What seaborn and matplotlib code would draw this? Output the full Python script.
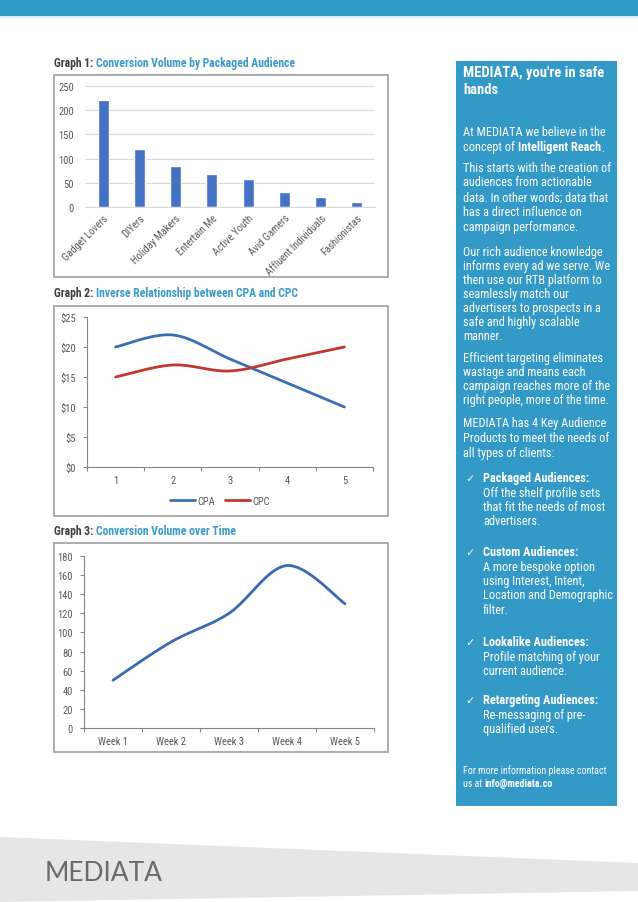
import numpy as np
import pandas as pd
import matplotlib
matplotlib.use("Agg")
import matplotlib.pyplot as plt
import seaborn as sns
from matplotlib import font_manager
from matplotlib.patches import Rectangle, Polygon
from matplotlib.ticker import FixedLocator

# ---------------- data ----------------
audiences = ["Gadget Lovers", "DIYers", "Holiday Makers", "Entertain Me",
             "Active Youth", "Avid Gamers", "Affluent Individuals", "Fashionistas"]
conversions = [222, 120, 84, 69, 57, 31, 20, 11]
g1_ticks = [0, 50, 100, 150, 200, 250]

periods = [1, 2, 3, 4, 5]
cpa = [20, 22, 18, 14, 10]
cpc = [15, 17, 16, 18, 20]
g2_ticks = [0, 5, 10, 15, 20, 25]

weeks = ["Week 1", "Week 2", "Week 3", "Week 4", "Week 5"]
weekly_volume = [50, 90, 120, 170, 130]
g3_ticks = [0, 20, 40, 60, 80, 100, 120, 140, 160, 180]

# ---------------- style ----------------
W, H = 638, 903
sns.set_theme(style="white")
names = {f.name for f in font_manager.fontManager.ttflist}
candidates = ["Liberation Sans Narrow", "Roboto Condensed", "Open Sans Condensed",
              "Noto Sans Condensed", "DejaVu Sans Condensed", "Roboto", "Lato"]
NARROW = next((c for c in candidates if c in names), "DejaVu Sans")
plt.rcParams["font.family"] = [NARROW, "DejaVu Sans"]

BLUE_PANEL = "#3399C6"
BLUE_TITLE = "#3A9BC8"
DARK = "#3F3F3F"
GRAY = "#595959"
AXC = "#868686"
BAR = "#4472C4"
CPA_C = "#3C6EB4"
CPC_C = "#C0392F"

fig = plt.figure(figsize=(W / 100, H / 100), dpi=100)
fig.patch.set_facecolor("white")

bg = fig.add_axes([0, 0, 1, 1], zorder=-5)
bg.set_xlim(0, W)
bg.set_ylim(H, 0)
bg.axis("off")

def px_axes(x0, y0, x1, y1):
    return fig.add_axes([x0 / W, 1 - y1 / H, (x1 - x0) / W, (y1 - y0) / H])

renderer = fig.canvas.get_renderer()

def text_w(s, size, weight):
    t = bg.text(0, 0, s, fontsize=size, fontweight=weight)
    w = t.get_window_extent(renderer).width
    t.remove()
    return w

def fit_size(s, weight, target, cap):
    return min(cap, 10.0 * target / text_w(s, 10.0, weight))

def seq_text(x, y, segs, size, color):
    for s, w, c in segs:
        c = c or color
        stripped = s.rstrip(" ")
        ntrail = len(s) - len(stripped)
        t = bg.text(x, y, stripped, fontsize=size, color=c, fontweight=w,
                    va="center", ha="left")
        bb = t.get_window_extent(renderer)
        x = bb.x1
        if ntrail:
            sp = text_w("x x", size, w) - text_w("xx", size, w)
            x += sp * ntrail
    return x

def smooth(xs, ys, n=40):
    P = np.column_stack([xs, ys]).astype(float)
    ext = np.vstack([P[0], P, P[-1]])
    out = []
    t = np.linspace(0, 1, n)[:, None]
    for i in range(len(P) - 1):
        p0, p1, p2, p3 = ext[i], ext[i + 1], ext[i + 2], ext[i + 3]
        c1 = p1 + (p2 - p0) / 6
        c2 = p2 - (p3 - p1) / 6
        seg = (1 - t) ** 3 * p1 + 3 * (1 - t) ** 2 * t * c1 + 3 * (1 - t) * t ** 2 * c2 + t ** 3 * p2
        out.append(seg if i == 0 else seg[1:])
    return np.vstack(out)

# ---------------- page decoration ----------------
bg.add_patch(Rectangle((0, 0), W, 17, color="#2F9AC5", lw=0))
bg.add_patch(Rectangle((0, 17), W, 2, color="#D6EEF7", lw=0))
bg.add_patch(Polygon([(0, 838), (W, 864), (W, 892), (0, 903)], closed=True,
                     color="#E6E6E6", lw=0))
bg.text(45, 874, "MEDIATA", fontsize=19, color="#6A6A6A", va="center", ha="left",
        family=["Lato", "DejaVu Sans"], fontweight="normal")

# graph boxes
for (x0, y0, x1, y1) in [(54, 76, 388, 278), (54, 307, 388, 517), (54, 544, 388, 753)]:
    bg.add_patch(Rectangle((x0, y0), x1 - x0, y1 - y0, fill=False,
                           ec="#A6A6A6", lw=1.3))

# graph titles
TS = fit_size("Graph 1: Conversion Volume by Packaged Audience", "bold", 241, 9.5)
for y, num, rest in [(63, "Graph 1:", "Conversion Volume by Packaged Audience"),
                     (294, "Graph 2:", "Inverse Relationship between CPA and CPC"),
                     (532, "Graph 3:", "Conversion Volume over Time")]:
    seq_text(54, y, [(num + " ", "bold", DARK), (rest, "bold", BLUE_TITLE)], TS, DARK)

TK = 7.6  # tick label size

# ---------------- Graph 1 ----------------
ax1 = px_axes(85, 87, 375, 208)
df1 = pd.DataFrame({"audience": audiences, "conversions": conversions})
sns.barplot(data=df1, x="audience", y="conversions", color=BAR, saturation=1,
            width=0.31, ax=ax1)
ax1.set_xlim(-0.5, len(audiences) - 0.5)
ax1.set_ylim(0, 250)
ax1.set_yticks(g1_ticks)
ax1.yaxis.grid(True, color="#D9D9D9", lw=0.8)
ax1.set_axisbelow(True)
for s in ["top", "right", "left"]:
    ax1.spines[s].set_visible(False)
ax1.spines["bottom"].set_color("#D9D9D9")
ax1.spines["bottom"].set_linewidth(0.8)
ax1.set_xlabel("")
ax1.set_ylabel("")
ax1.tick_params(axis="both", length=0, labelsize=TK, labelcolor=GRAY)
ax1.tick_params(axis="y", pad=8)
ax1.tick_params(axis="x", pad=4)
for lbl in ax1.get_xticklabels():
    lbl.set_rotation(45)
    lbl.set_ha("right")
    lbl.set_rotation_mode("anchor")

# ---------------- Graph 2 ----------------
ax2 = px_axes(87, 318, 373, 468)
s_cpa = smooth(periods, cpa)
s_cpc = smooth(periods, cpc)
sns.lineplot(x=s_cpa[:, 0], y=s_cpa[:, 1], sort=False, color=CPA_C, lw=2.0,
             label="CPA", ax=ax2)
sns.lineplot(x=s_cpc[:, 0], y=s_cpc[:, 1], sort=False, color=CPC_C, lw=2.0,
             label="CPC", ax=ax2)
ax2.set_xlim(0.5, 5.5)
ax2.set_ylim(0, 25)
ax2.set_xticks(periods)
ax2.set_xticklabels([str(p) for p in periods])
ax2.xaxis.set_minor_locator(FixedLocator(np.arange(0.5, 5.6, 1)))
ax2.set_yticks(g2_ticks)
ax2.set_yticklabels([f"${v}" for v in g2_ticks])
leg = ax2.legend(loc="center", bbox_to_anchor=(0.465, -0.227), ncol=2, frameon=False,
                 handlelength=2.4, columnspacing=0.9, handletextpad=0.25,
                 fontsize=TK)
for t in leg.get_texts():
    t.set_color(GRAY)

# ---------------- Graph 3 ----------------
ax3 = px_axes(84, 557, 374, 729)
x3 = list(range(1, len(weeks) + 1))
s_w = smooth(x3, weekly_volume)
sns.lineplot(x=s_w[:, 0], y=s_w[:, 1], sort=False, color="#3A69AE", lw=2.0, ax=ax3)
ax3.set_xlim(0.5, 5.5)
ax3.set_ylim(0, 180)
ax3.set_xticks(x3)
ax3.set_xticklabels(weeks)
ax3.xaxis.set_minor_locator(FixedLocator(np.arange(0.5, 5.6, 1)))
ax3.set_yticks(g3_ticks)

for ax in (ax2, ax3):
    for s in ["top", "right"]:
        ax.spines[s].set_visible(False)
    for s in ["left", "bottom"]:
        ax.spines[s].set_color(AXC)
        ax.spines[s].set_linewidth(0.8)
    ax.set_xlabel("")
    ax.set_ylabel("")
    ax.tick_params(axis="x", which="major", length=0, pad=6, labelsize=TK, labelcolor=GRAY)
    ax.tick_params(axis="x", which="minor", length=3, width=0.8, color=AXC, direction="out", bottom=True)
    ax.tick_params(axis="y", which="major", length=3, width=0.8, color=AXC, direction="out",
                   left=True, pad=5, labelsize=TK, labelcolor=GRAY)

# ---------------- right info panel ----------------
bg.add_patch(Rectangle((456, 62), 161, 745, color=BLUE_PANEL, lw=0))
WH = "white"
PX = 463
HS = fit_size("MEDIATA, you're in safe", "bold", 141, 10.5)
BS = fit_size("This starts with the creation of", "normal", 146, 9.0)
SS = fit_size("For more information please contact", "normal", 143, 7.5)
seq_text(PX, 73, [("MEDIATA, you're in safe", "bold", None)], HS, WH)
seq_text(PX, 90, [("hands", "bold", None)], HS, WH)

body = [
    (133, [("At MEDIATA we believe in the", "normal", None)]),
    (148, [("concept of ", "normal", None), ("Intelligent Reach", "bold", None), (".", "normal", None)]),
    (168, [("This starts with the creation of", "normal", None)]),
    (183, [("audiences from actionable", "normal", None)]),
    (198, [("data. In other words; data that", "normal", None)]),
    (213, [("has a direct influence on", "normal", None)]),
    (228, [("campaign performance.", "normal", None)]),
    (253, [("Our rich audience knowledge", "normal", None)]),
    (267, [("informs every ad we serve. We", "normal", None)]),
    (281, [("then use our RTB platform to", "normal", None)]),
    (295, [("seamlessly match our", "normal", None)]),
    (309, [("advertisers to prospects in a", "normal", None)]),
    (323, [("safe and highly scalable", "normal", None)]),
    (337, [("manner.", "normal", None)]),
    (359, [("Efficient targeting eliminates", "normal", None)]),
    (373, [("wastage and means each", "normal", None)]),
    (387, [("campaign reaches more of the", "normal", None)]),
    (401, [("right people, more of the time.", "normal", None)]),
    (424, [("MEDIATA has 4 Key Audience", "normal", None)]),
    (439, [("Products to meet the needs of", "normal", None)]),
    (454, [("all types of clients:", "normal", None)]),
]
for y, segs in body:
    seq_text(PX, y, segs, BS, WH)

bullets = [
    (479, "Packaged Audiences:", ["Off the shelf profile sets", "that fit the needs of most", "advertisers."]),
    (553, "Custom Audiences:", ["A more bespoke option", "using Interest, Intent,", "Location and Demographic", "filter."]),
    (643, "Lookalike Audiences:", ["Profile matching of your", "current audience."]),
    (701, "Retargeting Audiences:", ["Re-messaging of pre-", "qualified users."]),
]
BX = 483
for y, head, lines in bullets:
    bg.text(465, y, "\u2713", fontsize=8, color=WH, va="center", ha="left",
            family=["DejaVu Sans"])
    seq_text(BX, y, [(head, "bold", None)], BS, WH)
    for i, ln in enumerate(lines):
        seq_text(BX, y + 14.3 * (i + 1), [(ln, "normal", None)], BS, WH)

seq_text(PX, 771, [("For more information please contact", "normal", None)], SS, WH)
seq_text(PX, 784, [("us at ", "normal", None), ("info@mediata.co", "bold", None)], SS, WH)

fig.savefig("out.png", dpi=100)
